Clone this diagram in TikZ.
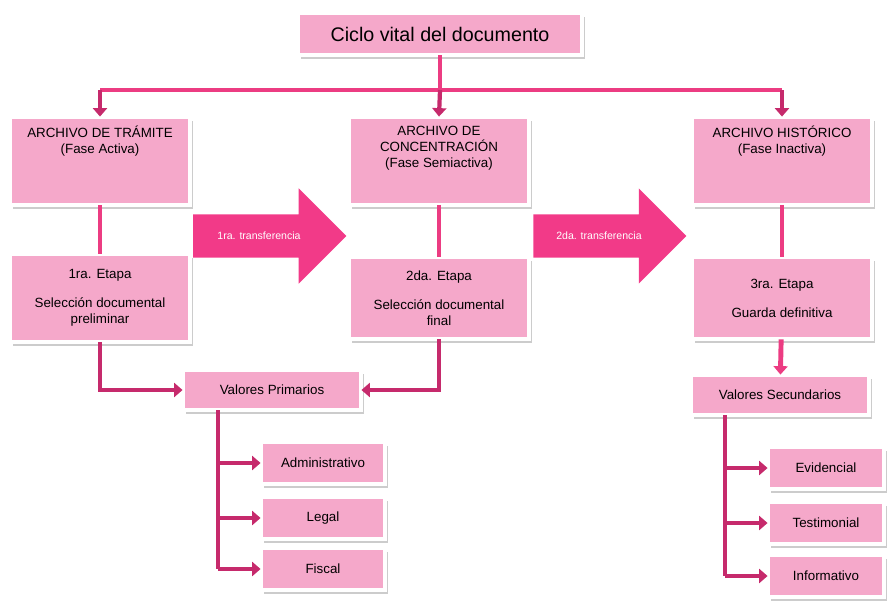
\documentclass[tikz,border=0pt]{standalone}
\usepackage{fontspec}
\setmainfont{Liberation Sans}
\usepackage{tikz}
\usetikzlibrary{positioning,calc,shapes.arrows,shadows,arrows.meta}
\definecolor{boxpink}{HTML}{F5A8CA}
\definecolor{linkpink}{HTML}{C62A6C}
\definecolor{toppink}{HTML}{EC3C82}
\definecolor{bigpink}{HTML}{F23A88}

\begin{document}
\begin{tikzpicture}
[
   x=0.025cm, y=-0.025cm,
   font=\fontsize{9.5}{11.5}\selectfont,
   align=center
]

\tikzset{box/.style = {rectangle, fill=boxpink, draw=black!45, line width=0.6pt,
   double=white, double distance=2.2pt,
   general shadow={shadow xshift=2pt, shadow yshift=-2.5pt, fill=black!40, opacity=0.5}}}
\tikzset{big/.style = {box, minimum width=4.5cm, minimum height=2.2cm}}
\tikzset{small/.style = {box, minimum width=3.1cm, minimum height=1.05cm}}
\tikzset{link/.style = {draw=linkpink, line width=3.5pt, -{Triangle[length=6pt,width=10pt]}}}
\tikzset{toplink/.style = {draw=toppink, line width=3pt}}
\tikzset{transfer/.style = {single arrow, fill=bigpink, draw=none, text=white,
   font=\fontsize{7.5}{8}\selectfont, minimum height=3.83cm, inner ysep=12.5pt,
   single arrow head extend=0.65cm}}

\path[use as bounding box] (0,0) rectangle (895,612);

% nodes
\node[box, minimum width=7.1cm, minimum height=1.05cm, font=\fontsize{14}{16}\selectfont]
   (ciclo) at (440,34) {Ciclo vital del documento};

\node[big, label={[anchor=north, yshift=-3pt]north:ARCHIVO DE TRÁMITE\\(Fase Activa)}]
   (tramite) at (100,161) {};
\node[big, label={[anchor=north, yshift=-3pt]north:ARCHIVO DE\\CONCENTRACIÓN\\(Fase Semiactiva)}]
   (concen) at (439,161) {};
\node[big, label={[anchor=north, yshift=-3pt]north:ARCHIVO HISTÓRICO\\(Fase Inactiva)}]
   (historico) at (782,161) {};

\node[big] (etapa1) at (100,298) {1ra. Etapa\\[9pt]Selección documental\\preliminar};
\node[big, minimum height=2.05cm] (etapa2) at (439,298) {2da. Etapa\\[9pt]Selección documental\\final};
\node[big, minimum height=2.05cm] (etapa3) at (782,298) {3ra. Etapa\\[9pt]Guarda definitiva};

\node[transfer] (trans1) at (259,236) {1ra. transferencia};
\node[transfer] (trans2) at (599,236) {2da. transferencia};

\node[box, minimum width=4.45cm, minimum height=1cm] (primarios) at (272,390) {Valores Primarios};
\node[box, minimum width=4.45cm, minimum height=1cm] (secundarios) at (780,395) {Valores Secundarios};

\node[small] (admin) at (323,463) {Administrativo};
\node[small] (legal) at (323,518) {Legal};
\node[small] (fiscal) at (323,569) {Fiscal};

\node[small, minimum width=2.9cm] (evid) at (826,468) {Evidencial};
\node[small, minimum width=2.9cm] (testi) at (826,523) {Testimonial};
\node[small, minimum width=2.9cm] (info) at (826,576) {Informativo};

\coordinate (top) at (440,90);
\coordinate (pbus) at (218,410);
\coordinate (sbus) at (725,415);

% arcs
\draw[toplink] (ciclo.south) -- (top);
\draw[toplink] (tramite.north |- top) -- (historico.north |- top);
\draw[link, line width=3pt] (top) -- (concen.north);
\draw[link, line width=3pt] (tramite.north |- top) -- (tramite.north);
\draw[link, line width=3pt] (historico.north |- top) -- (historico.north);

\draw[toplink, line width=2.5pt] (tramite) -- (etapa1);
\draw[toplink, line width=2.5pt] (concen) -- (etapa2);
\draw[toplink, line width=2.5pt] (historico) -- (etapa3);

\draw[link] (etapa1.south) -- (etapa1.south |- primarios) -- (primarios.west);
\draw[link] (etapa2.south) -- (etapa2.south |- primarios) -- (primarios.east);
\draw[link, draw=toppink] (etapa3) -- (secundarios);

\draw[draw=linkpink, line width=3.5pt] (pbus) -- (pbus |- fiscal);
\foreach \v in {admin, legal, fiscal}
   \draw[link] (pbus |- \v) -- (\v.west);
\draw[draw=linkpink, line width=3.5pt] (sbus) -- (sbus |- info);
\foreach \v in {evid, testi, info}
   \draw[link] (sbus |- \v) -- (\v.west);
\end{tikzpicture}
\end{document}
